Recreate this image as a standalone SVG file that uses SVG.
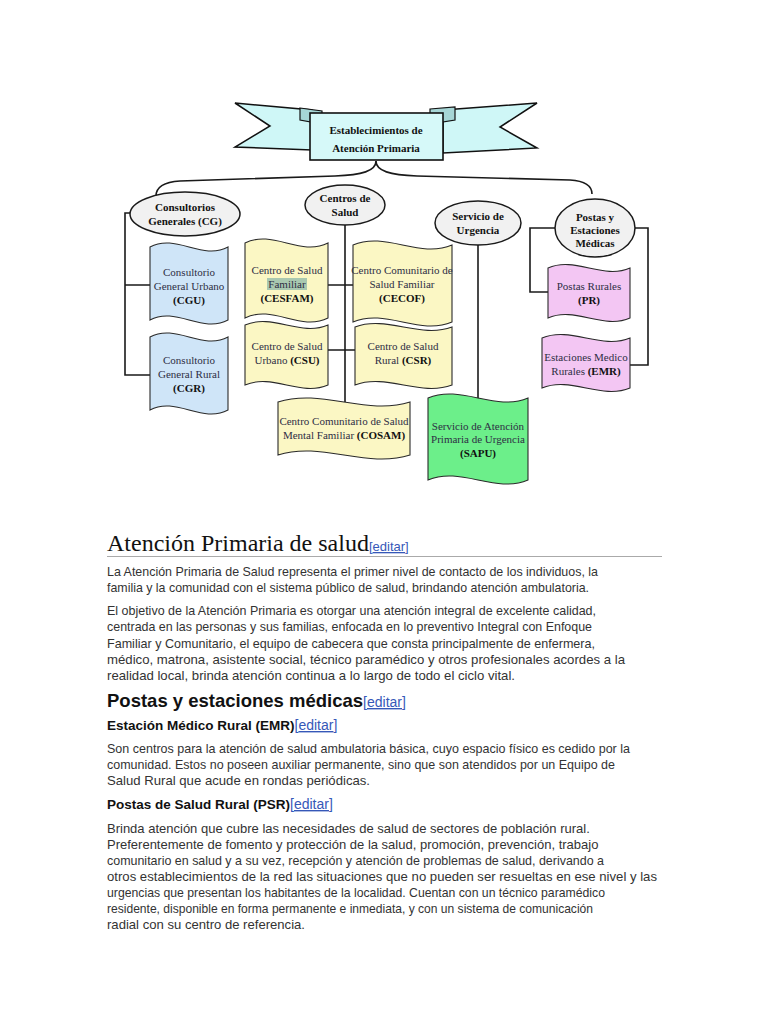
<svg xmlns="http://www.w3.org/2000/svg" width="768" height="1024" viewBox="0 0 768 1024">
<style>
.ln{fill:none;stroke:#1a1a1a;stroke-width:1.6}
.el{fill:#f1f1f1;stroke:#1a1a1a;stroke-width:1.5}
.wv{stroke:#2a2a2a;stroke-width:1.1}
.blue{fill:#cfe5f8}.yel{fill:#fbf7c4}.grn{fill:#6cef8a}.pink{fill:#f3c6f3}
.nt{font-family:"Liberation Serif",serif;font-size:11px;fill:#2e2e44;text-anchor:middle}
.b{font-weight:bold;fill:#111}
.et{font-family:"Liberation Serif",serif;font-size:11px;font-weight:bold;fill:#111;text-anchor:middle}
.body{font-family:"Liberation Sans",Arial,sans-serif;font-size:13px;fill:#333}
.hb{font-family:"Liberation Sans",Arial,sans-serif;font-weight:bold;fill:#111}
.lk{font-family:"Liberation Sans",Arial,sans-serif;font-weight:normal;fill:#3658b8}
</style>
<rect width="768" height="1024" fill="#ffffff"/>

<g id="connectors">
<path class="ln" d="M376,161 C376,171 362,175 335,176 L180,181 C165,182 156,187 156,196"/>
<path class="ln" d="M376,161 C376,171 390,175 417,176 L570,180 C585,181 592,186 592,194"/>
<path class="ln" d="M131,213 H125 V375 H150 M125,285 H150"/>
<path class="ln" d="M345,225 V402 M328,285 H353 M328,350 H355"/>
<path class="ln" d="M478,245 V400"/>
<path class="ln" d="M556,228 H530 V292 H548 M634,228 H648 V365 H630"/>
</g>

<g id="banner">
<polygon points="235,103 312,110 312,150 235,147 270,126" fill="#cff7f7" stroke="#111" stroke-width="1.5"/>
<polygon points="443,110 537,103 500,127 537,148 443,153" fill="#cff7f7" stroke="#111" stroke-width="1.5"/>
<polygon points="300,108 322,111 322,124 300,120" fill="#a6d6d6" stroke="#111" stroke-width="1.2"/>
<polygon points="430,109 455,107 455,120 430,124" fill="#a6d6d6" stroke="#111" stroke-width="1.2"/>
<rect x="310" y="113" width="133" height="47" fill="#d6f9f9" stroke="#111" stroke-width="1.6"/>
<text class="et" x="376" y="134" font-size="12.5">Establecimientos de</text>
<text class="et" x="376" y="152" font-size="12.5">Atención Primaria</text>
</g>

<g id="cg">
<ellipse class="el" cx="185" cy="214" rx="55" ry="22"/>
<text class="et" x="185" y="211">Consultorios</text>
<text class="et" x="185" y="225">Generales (CG)</text>
</g>
<g id="cs">
<ellipse class="el" cx="345" cy="205" rx="40" ry="20"/>
<text class="et" x="345" y="202">Centros de</text>
<text class="et" x="345" y="216">Salud</text>
</g>
<g id="su">
<ellipse class="el" cx="478" cy="223" rx="43" ry="22"/>
<text class="et" x="478" y="220">Servicio de</text>
<text class="et" x="478" y="234">Urgencia</text>
</g>
<g id="pem">
<ellipse class="el" cx="595" cy="228" rx="40" ry="29"/>
<text class="et" x="595" y="221">Postas y</text>
<text class="et" x="595" y="234">Estaciones</text>
<text class="et" x="595" y="247">Médicas</text>
</g>

<g id="cgu">
<path class="wv blue" d="M150,247 C176,233 202,261 228,247 L228,320 C202,334 176,306 150,320 Z"/>
<text class="nt" x="189" y="276">Consultorio</text>
<text class="nt" x="189" y="290">General Urbano</text>
<text class="nt b" x="189" y="304">(CGU)</text>
</g>
<g id="cgr">
<path class="wv blue" d="M150,337 C176,323 202,351 228,337 L228,410 C202,424 176,396 150,410 Z"/>
<text class="nt" x="189" y="364">Consultorio</text>
<text class="nt" x="189" y="378">General Rural</text>
<text class="nt b" x="189" y="392">(CGR)</text>
</g>
<g id="cesfam">
<path class="wv yel" d="M245,243 C273,229 300,257 328,243 L328,318 C300,332 273,304 245,318 Z"/>
<rect x="267" y="278" width="40" height="12" fill="#a9c8b0"/>
<text class="nt" x="287" y="274">Centro de Salud</text>
<text class="nt" x="287" y="288" fill="#1f4a3a">Familiar</text>
<text class="nt b" x="287" y="302">(CESFAM)</text>
</g>
<g id="cecof">
<path class="wv yel" d="M353,245 C386,231 419,259 452,245 L452,322 C419,336 386,308 353,322 Z"/>
<text class="nt" x="402" y="274">Centro Comunitario de</text>
<text class="nt" x="402" y="288">Salud Familiar</text>
<text class="nt b" x="402" y="302">(CECOF)</text>
</g>
<g id="csu">
<path class="wv yel" d="M245,325 C273,313 300,337 328,325 L328,385 C300,397 273,373 245,385 Z"/>
<text class="nt" x="287" y="350">Centro de Salud</text>
<text class="nt" x="287" y="364">Urbano <tspan class="b">(CSU)</tspan></text>
</g>
<g id="csr">
<path class="wv yel" d="M355,327 C387,315 420,339 452,327 L452,385 C420,397 387,373 355,385 Z"/>
<text class="nt" x="403" y="350">Centro de Salud</text>
<text class="nt" x="403" y="364">Rural <tspan class="b">(CSR)</tspan></text>
</g>
<g id="cosam">
<path class="wv yel" d="M278,402 C322,388 366,416 410,402 L410,455 C366,469 322,441 278,455 Z"/>
<text class="nt" x="344" y="425">Centro Comunitario de Salud</text>
<text class="nt" x="344" y="439">Mental Familiar <tspan class="b">(COSAM)</tspan></text>
</g>
<g id="sapu">
<path class="wv grn" d="M428,398 C461,384 495,412 528,398 L528,480 C495,494 461,466 428,480 Z"/>
<text class="nt" x="478" y="430" fill="#1a2a1a">Servicio de Atención</text>
<text class="nt" x="478" y="443" fill="#1a2a1a">Primaria de Urgencia</text>
<text class="nt b" x="478" y="457">(SAPU)</text>
</g>
<g id="pr">
<path class="wv pink" d="M548,268 C575,256 603,280 630,268 L630,318 C603,330 575,306 548,318 Z"/>
<text class="nt" x="589" y="290" fill="#4a2a5a">Postas Rurales</text>
<text class="nt b" x="589" y="304">(PR)</text>
</g>
<g id="emr">
<path class="wv pink" d="M542,338 C571,326 601,350 630,338 L630,388 C601,400 571,376 542,388 Z"/>
<text class="nt" x="586" y="361" fill="#4a2a5a">Estaciones Medico</text>
<text class="nt" x="586" y="375" fill="#4a2a5a">Rurales <tspan class="b">(EMR)</tspan></text>
</g>

<g id="article">
<text x="107" y="551" font-family="Liberation Serif,serif" font-size="24" fill="#111">Atención Primaria de salud<tspan class="lk" font-size="13">[<tspan text-decoration="underline">editar</tspan>]</tspan></text>
<line x1="107" y1="556.5" x2="662" y2="556.5" stroke="#aaaaaa" stroke-width="1"/>

<text class="body" x="107" y="576" textLength="491" lengthAdjust="spacingAndGlyphs">La Atención Primaria de Salud representa el primer nivel de contacto de los individuos, la</text>
<text class="body" x="107" y="592" textLength="482" lengthAdjust="spacingAndGlyphs">familia y la comunidad con el sistema público de salud, brindando atención ambulatoria.</text>

<text class="body" x="107" y="615" textLength="489" lengthAdjust="spacingAndGlyphs">El objetivo de la Atención Primaria es otorgar una atención integral de excelente calidad,</text>
<text class="body" x="107" y="631" textLength="485" lengthAdjust="spacingAndGlyphs">centrada en las personas y sus familias, enfocada en lo preventivo Integral con Enfoque</text>
<text class="body" x="107" y="648" textLength="488" lengthAdjust="spacingAndGlyphs">Familiar y Comunitario, el equipo de cabecera que consta principalmente de enfermera,</text>
<text class="body" x="107" y="664" textLength="518" lengthAdjust="spacingAndGlyphs">médico, matrona, asistente social, técnico paramédico y otros profesionales acordes a la</text>
<text class="body" x="107" y="680" textLength="408" lengthAdjust="spacingAndGlyphs">realidad local, brinda atención continua a lo largo de todo el ciclo vital.</text>

<text class="hb" x="107" y="707" font-size="18.5">Postas y estaciones médicas<tspan class="lk" font-size="14">[<tspan text-decoration="underline">editar</tspan>]</tspan></text>

<text class="hb" x="107" y="730" font-size="13.5">Estación Médico Rural (EMR)<tspan class="lk" font-size="14">[<tspan text-decoration="underline">editar</tspan>]</tspan></text>

<text class="body" x="107" y="753" textLength="523" lengthAdjust="spacingAndGlyphs">Son centros para la atención de salud ambulatoria básica, cuyo espacio físico es cedido por la</text>
<text class="body" x="107" y="769" textLength="508" lengthAdjust="spacingAndGlyphs">comunidad. Estos no poseen auxiliar permanente, sino que son atendidos por un Equipo de</text>
<text class="body" x="107" y="785" textLength="263" lengthAdjust="spacingAndGlyphs">Salud Rural que acude en rondas periódicas.</text>

<text class="hb" x="107" y="809" font-size="13.5">Postas de Salud Rural (PSR)<tspan class="lk" font-size="14">[<tspan text-decoration="underline">editar</tspan>]</tspan></text>

<text class="body" x="107" y="833">Brinda atención que cubre las necesidades de salud de sectores de población rural.</text>
<text class="body" x="107" y="849">Preferentemente de fomento y protección de la salud, promoción, prevención, trabajo</text>
<text class="body" x="107" y="865" textLength="497" lengthAdjust="spacingAndGlyphs">comunitario en salud y a su vez, recepción y atención de problemas de salud, derivando a</text>
<text class="body" x="107" y="881" textLength="550" lengthAdjust="spacingAndGlyphs">otros establecimientos de la red las situaciones que no pueden ser resueltas en ese nivel y las</text>
<text class="body" x="107" y="897" textLength="498" lengthAdjust="spacingAndGlyphs">urgencias que presentan los habitantes de la localidad. Cuentan con un técnico paramédico</text>
<text class="body" x="107" y="913" textLength="486" lengthAdjust="spacingAndGlyphs">residente, disponible en forma permanente e inmediata, y con un sistema de comunicación</text>
<text class="body" x="107" y="929" textLength="198" lengthAdjust="spacingAndGlyphs">radial con su centro de referencia.</text>
</g>
</svg>
